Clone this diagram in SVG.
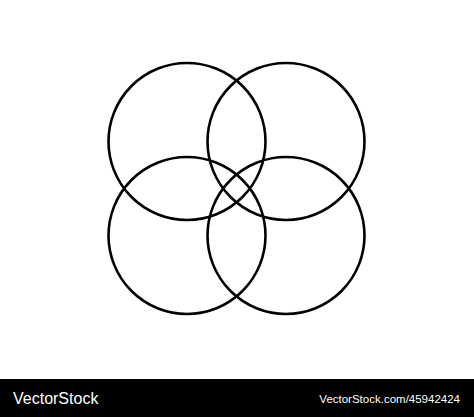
<svg xmlns="http://www.w3.org/2000/svg" width="474" height="417" viewBox="0 0 474 417">
<style>
.c{fill:none;stroke:#000;stroke-width:2.6}
.t{fill:#fff;font-family:"Liberation Sans",Arial,sans-serif}
</style>
<rect width="474" height="417" fill="#fff"/>
<g id="circle-tl"><circle class="c" cx="187" cy="141.5" r="78.5"/></g>
<g id="circle-tr"><circle class="c" cx="286" cy="141.5" r="78.5"/></g>
<g id="circle-bl"><circle class="c" cx="187" cy="235.5" r="78.5"/></g>
<g id="circle-br"><circle class="c" cx="286" cy="235.5" r="78.5"/></g>
<g id="footer">
<rect x="0" y="379" width="474" height="38" fill="#000"/>
<text class="t" x="13" y="404" font-size="16">VectorStock</text>
<text class="t" x="460" y="403" font-size="11.5" text-anchor="end">VectorStock.com/45942424</text>
</g>
</svg>
